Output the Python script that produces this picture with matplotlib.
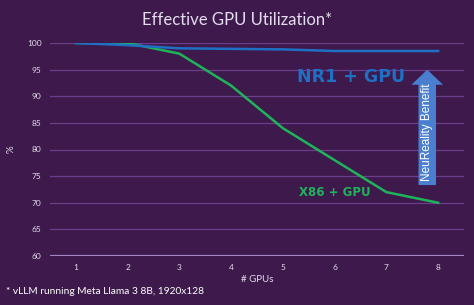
import matplotlib.pyplot as plt

gpus = [1, 2, 3, 4, 5, 6, 7, 8]
nr1_gpu = [100, 99.6, 99.0, 98.9, 98.8, 98.5, 98.5, 98.5]
x86_gpu = [100, 100, 98, 92, 84, 78, 72, 70]
yticks = [60, 65, 70, 75, 80, 85, 90, 95, 100]

bg = '#3d1a4b'
grid_col = '#6b3d8c'
txt = '#e6dcef'

plt.rcParams['font.family'] = ['Lato', 'DejaVu Sans']

fig = plt.figure(figsize=(4.74, 3.05), dpi=100, facecolor=bg)
ax = fig.add_axes([50 / 474, 1 - 256 / 305, 414 / 474, 213 / 305])
ax.set_facecolor(bg)

for y in yticks[1:]:
    ax.axhline(y, color=grid_col, lw=0.9, zorder=1)
ax.axhline(60, color='#a383c0', lw=1.6, zorder=1)

ax.plot(gpus, x86_gpu, color='#1fb35a', lw=1.8, zorder=2)
ax.plot(gpus, nr1_gpu, color='#1f6fc4', lw=1.8, zorder=3)

ax.set_xlim(0.5, 8.5)
ax.set_ylim(60, 100)
ax.set_xticks(gpus)
ax.set_yticks(yticks)
ax.tick_params(colors=txt, labelsize=6, length=0, pad=6)
for s in ax.spines.values():
    s.set_visible(False)

ax.set_xlabel('# GPUs', color=txt, fontsize=7, labelpad=3)
ax.set_ylabel('%', color=txt, fontsize=7, labelpad=8)

ax.text(6.31, 93.6, 'NR1 + GPU', color='#1f6fc4', fontsize=12.5, fontweight='bold',
        family=['DejaVu Sans'], ha='center', va='center', zorder=4)
ax.text(6.0, 71.9, 'X86 + GPU', color='#1fb35a', fontsize=8.5, fontweight='bold',
        family=['DejaVu Sans'], ha='center', va='center', zorder=4)

ax.annotate('', xy=(7.79, 95.5), xytext=(7.79, 72.8),
            arrowprops=dict(arrowstyle='simple,head_length=0.9,head_width=1.9,tail_width=1.05',
                            mutation_scale=12, color='#4a7fd0', lw=0),
            zorder=4)
ax.text(7.79, 83.2, 'NeuReality Benefit', color='white', fontsize=8.5, rotation=90,
        family=['Liberation Sans'], ha='center', va='center', zorder=5)

fig.text(0.5, 1 - 20 / 305, 'Effective GPU Utilization*', color=txt, fontsize=12,
         ha='center', va='center')
fig.text(6 / 474, 1 - 292 / 305, '* vLLM running Meta Llama 3 8B, 1920x128', color='white',
         fontsize=7.3, ha='left', va='center')

plt.savefig('out.png', dpi=100, facecolor=bg)
